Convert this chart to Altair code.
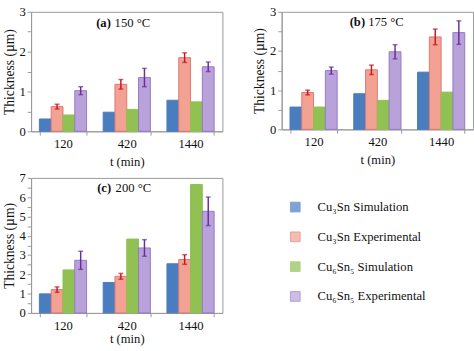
import altair as alt
import pandas as pd

FONT = "Liberation Serif"

times = ["120", "420", "1440"]
series = ["Cu₃Sn Simulation", "Cu₃Sn Experimental", "Cu₆Sn₅ Simulation", "Cu₆Sn₅ Experimental"]
fill_colors = ["#4a7dbd", "#f2a193", "#90c152", "#b9a2da"]
stroke_colors = ["#4a7dbd", "#d87a72", "#90c152", "#9478c4"]
err_colors = {"Cu₃Sn Experimental": "#c8161d", "Cu₆Sn₅ Experimental": "#6a2c9a"}

# Panel (a) 150 °C
a_cu3sn_sim = [0.31, 0.48, 0.78]
a_cu3sn_exp = [0.62, 1.18, 1.85]
a_cu3sn_err = [0.06, 0.12, 0.12]
a_cu6sn5_sim = [0.41, 0.55, 0.74]
a_cu6sn5_exp = [1.02, 1.35, 1.62]
a_cu6sn5_err = [0.10, 0.23, 0.12]

# Panel (b) 175 °C
b_cu3sn_sim = [0.57, 0.91, 1.46]
b_cu3sn_exp = [0.94, 1.52, 2.36]
b_cu3sn_err = [0.06, 0.12, 0.20]
b_cu6sn5_sim = [0.57, 0.74, 0.95]
b_cu6sn5_exp = [1.50, 1.98, 2.47]
b_cu6sn5_err = [0.09, 0.18, 0.30]

# Panel (c) 200 °C
c_cu3sn_sim = [0.99, 1.58, 2.55]
c_cu3sn_exp = [1.21, 1.90, 2.77]
c_cu3sn_err = [0.14, 0.15, 0.25]
c_cu6sn5_sim = [2.23, 3.83, 6.66]
c_cu6sn5_exp = [2.73, 3.37, 5.27]
c_cu6sn5_err = [0.47, 0.43, 0.74]


def make_frames(s3, e3, r3, s6, e6, r6):
    rows = []
    for i, t in enumerate(times):
        for name, vals in zip(series, [s3, e3, s6, e6]):
            rows.append({"time": t, "series": name, "value": vals[i]})
    err_rows = []
    for i, t in enumerate(times):
        for name, vals, errs in [(series[1], e3, r3), (series[3], e6, r6)]:
            err_rows.append({"time": t, "series": name,
                             "lo": vals[i] - errs[i], "hi": vals[i] + errs[i]})
    return pd.DataFrame(rows), pd.DataFrame(err_rows)


def panel(frames, ymax, w, h, bold, rest, tx, ty, xtp):
    df, dferr = frames
    xenc = alt.X("time:N", sort=times,
                 scale=alt.Scale(paddingInner=0.26, paddingOuter=0.13),
                 axis=alt.Axis(title="t  (min)", labelAngle=0, tickBand="extent",
                               tickSize=4, labelPadding=3, titlePadding=xtp,
                               labelFont=FONT, titleFont=FONT, labelFontSize=13,
                               titleFontSize=13, titleFontWeight="normal",
                               labelColor="#111", titleColor="#111",
                               domainColor="#999", tickColor="#999"))
    xoff = alt.XOffset("series:N", sort=series,
                       scale=alt.Scale(paddingInner=0, paddingOuter=0))
    ticks = [k * 0.5 for k in range(int(ymax * 2) + 1)]
    yenc = alt.Y("value:Q", scale=alt.Scale(domain=[0, ymax], nice=False),
                 axis=alt.Axis(title="Thickness (µm)", values=ticks, tickCount=40,
                               labelExpr="datum.value % 1 == 0 ? datum.value : ''",
                               labelOverlap=False, labelSeparation=0,
                               grid=False, tickSize=4, labelPadding=2, titlePadding=3,
                               labelFont=FONT, titleFont=FONT, labelFontSize=13,
                               titleFontSize=14, titleFontWeight="normal",
                               labelColor="#111", titleColor="#111",
                               domainColor="#999", tickColor="#999"))
    xs = alt.X("time:N", sort=times)
    bars = alt.Chart(df).mark_bar(strokeWidth=1).encode(
        x=xenc, xOffset=xoff, y=yenc,
        color=alt.Color("series:N", sort=series,
                        scale=alt.Scale(domain=series, range=fill_colors), legend=None),
        stroke=alt.Stroke("series:N", sort=series,
                          scale=alt.Scale(domain=series, range=stroke_colors), legend=None),
    )
    layers = [bars]
    for name, col in err_colors.items():
        base = alt.Chart(dferr).transform_filter(alt.datum.series == name)
        layers.append(base.mark_rule(color=col, strokeWidth=1.5).encode(
            x=xs, xOffset=alt.XOffset("series:N", sort=series),
            y="lo:Q", y2="hi:Q"))
        layers.append(base.mark_tick(color=col, size=5, thickness=1.5).encode(
            x=xs, xOffset=alt.XOffset("series:N", sort=series), y="lo:Q"))
        layers.append(base.mark_tick(color=col, size=5, thickness=1.5).encode(
            x=xs, xOffset=alt.XOffset("series:N", sort=series), y="hi:Q"))
    lab = pd.DataFrame({"b": [bold], "r": [rest]})
    layers.append(alt.Chart(lab).mark_text(font=FONT, fontSize=13, fontWeight="bold",
                                           align="left", baseline="middle", color="#111").encode(
        text="b:N", x=alt.value(tx), y=alt.value(ty)))
    layers.append(alt.Chart(lab).mark_text(font=FONT, fontSize=13, align="left",
                                           baseline="middle", color="#111").encode(
        text="r:N", x=alt.value(tx + 19), y=alt.value(ty)))
    return alt.layer(*layers).properties(width=w, height=h)


pa = panel(make_frames(a_cu3sn_sim, a_cu3sn_exp, a_cu3sn_err,
                       a_cu6sn5_sim, a_cu6sn5_exp, a_cu6sn5_err),
           3, 197, 123, "(a)", "150 °C", 67, 12, 5)
pb = panel(make_frames(b_cu3sn_sim, b_cu3sn_exp, b_cu3sn_err,
                       b_cu6sn5_sim, b_cu6sn5_exp, b_cu6sn5_err),
           3, 197, 121, "(b)", "175 °C", 70, 11, 5)
pc = panel(make_frames(c_cu3sn_sim, c_cu3sn_exp, c_cu3sn_err,
                       c_cu6sn5_sim, c_cu6sn5_exp, c_cu6sn5_err),
           7, 197, 139, "(c)", "200 °C", 68, 10, 0)

leg_df = pd.DataFrame({"series": series})
leg_y = alt.Y("series:N", sort=series, axis=None,
              scale=alt.Scale(type="point", padding=0, range=[30, 122]))
leg_sq = alt.Chart(leg_df).mark_square(size=100, strokeWidth=1).encode(
    y=leg_y, x=alt.value(64),
    color=alt.Color("series:N", sort=series,
                    scale=alt.Scale(domain=series, range=fill_colors), legend=None),
    stroke=alt.Stroke("series:N", sort=series,
                      scale=alt.Scale(domain=series, range=stroke_colors), legend=None),
)
leg_tx = alt.Chart(leg_df).mark_text(font=FONT, fontSize=13, align="left",
                                     baseline="middle", color="#111").encode(
    y=leg_y, x=alt.value(87), text="series:N")
legend = alt.layer(leg_sq, leg_tx).properties(width=220, height=150, view=alt.ViewBackground(stroke=None))

row1 = alt.hconcat(pa, pb, spacing=30)
row2 = alt.hconcat(pc, legend, spacing=10)
chart = alt.vconcat(row1, row2, spacing=2).properties(
    padding={"left": 2, "top": 0, "right": 0, "bottom": 0}
).configure(font=FONT, background="white").configure_view(
    stroke="#999", strokeWidth=1
).configure_axis(labelFont=FONT, titleFont=FONT, labelOverlap=False).configure_text(font=FONT)

chart.save("out.html", embed_options={"renderer": "svg", "actions": False})
